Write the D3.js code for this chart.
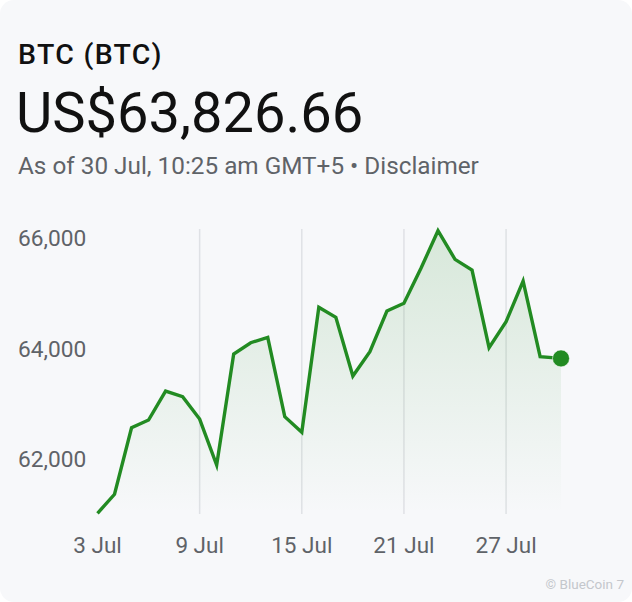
<!DOCTYPE html>
<html>
<head>
<meta charset="utf-8">
<script src="https://cdn.jsdelivr.net/npm/d3@7"></script>
<style>
  html, body { margin: 0; padding: 0; background: #ffffff; }
  svg { display: block; font-family: Roboto, "Noto Sans", sans-serif; }
</style>
</head>
<body>
<svg id="chart" width="632" height="602"></svg>
<script>
// daily closes, 3 Jul to 29 Jul, plus the live quote on 30 Jul
var dates = [
  "2024-07-03", "2024-07-04", "2024-07-05", "2024-07-06", "2024-07-07",
  "2024-07-08", "2024-07-09", "2024-07-10", "2024-07-11", "2024-07-12",
  "2024-07-13", "2024-07-14", "2024-07-15", "2024-07-16", "2024-07-17",
  "2024-07-18", "2024-07-19", "2024-07-20", "2024-07-21", "2024-07-22",
  "2024-07-23", "2024-07-24", "2024-07-25", "2024-07-26", "2024-07-27",
  "2024-07-28", "2024-07-29", "2024-07-30T05:25:00Z"
];
var prices = [
  61023, 61367, 62572, 62711, 63236,
  63133, 62729, 61897, 63906, 64110,
  64208, 62771, 62489, 64753, 64570,
  63508, 63948, 64684, 64824, 65457,
  66138, 65620, 65426, 64020, 64491,
  65227, 63857, 63826.66
];
var xTicks = ["2024-07-03", "2024-07-09", "2024-07-15", "2024-07-21", "2024-07-27"];
var yTicks = [62000, 64000, 66000];

var titleText = "BTC (BTC)";
var priceText = "US$63,826.66";
var subText = "As of 30 Jul, 10:25 am GMT+5 \u2022 Disclaimer";
var markText = "\u00a9 BlueCoin 7";

var green = "#228b22";
var grey = "#5f6368";

var data = dates.map(function (d, i) {
  return { date: new Date(d.length > 10 ? d : d + "T00:00:00Z"), value: prices[i] };
});

var svg = d3.select("#chart");

svg.append("rect")
  .attr("x", 0).attr("y", 0)
  .attr("width", 632).attr("height", 602)
  .attr("rx", 14)
  .attr("fill", "#f7f8fa");

// header
svg.append("text")
  .attr("x", 18).attr("y", 64)
  .attr("font-size", 28.5).attr("font-weight", 500)
  .attr("letter-spacing", 1.3)
  .attr("fill", "#111")
  .text(titleText);

svg.append("text")
  .attr("x", 16).attr("y", 132)
  .attr("font-size", 56)
  .attr("fill", "#111")
  .text(priceText);

svg.append("text")
  .attr("x", 18).attr("y", 174)
  .attr("font-size", 24.3)
  .attr("fill", grey)
  .text(subText);

// scales
var x = d3.scaleUtc()
  .domain(d3.extent(data, function (d) { return d.date; }))
  .range([97.5, 561]);

var y = d3.scaleLinear()
  .domain(d3.extent(data, function (d) { return d.value; }))
  .range([513.3, 230.7]);

var plotTop = 229, plotBottom = 514;

// vertical grid lines (no line at the first tick)
svg.append("g")
  .selectAll("line")
  .data(xTicks.slice(1))
  .enter().append("line")
  .attr("x1", function (d) { return x(new Date(d + "T00:00:00Z")); })
  .attr("x2", function (d) { return x(new Date(d + "T00:00:00Z")); })
  .attr("y1", plotTop).attr("y2", plotBottom)
  .attr("stroke", "#dfe1e5").attr("stroke-width", 1.5);

// x labels
var fmt = d3.utcFormat("%-d %b");
svg.append("g")
  .selectAll("text")
  .data(xTicks)
  .enter().append("text")
  .attr("x", function (d) { return x(new Date(d + "T00:00:00Z")); })
  .attr("y", 553)
  .attr("text-anchor", "middle")
  .attr("font-size", 22.5)
  .attr("fill", grey)
  .text(function (d) { return fmt(new Date(d + "T00:00:00Z")); });

// y labels
var yFmt = d3.format(",");
svg.append("g")
  .selectAll("text")
  .data(yTicks)
  .enter().append("text")
  .attr("x", 18)
  .attr("y", function (d) { return y(d); })
  .attr("dy", "0.35em")
  .attr("font-size", 22.7)
  .attr("fill", grey)
  .text(function (d) { return yFmt(d); });

// area gradient
var grad = svg.append("defs").append("linearGradient")
  .attr("id", "fade")
  .attr("gradientUnits", "userSpaceOnUse")
  .attr("x1", 0).attr("y1", y.range()[1])
  .attr("x2", 0).attr("y2", plotBottom);
grad.append("stop").attr("offset", "0%").attr("stop-color", green).attr("stop-opacity", 0.15);
grad.append("stop").attr("offset", "100%").attr("stop-color", green).attr("stop-opacity", 0.0);

var area = d3.area()
  .x(function (d) { return x(d.date); })
  .y0(plotBottom)
  .y1(function (d) { return y(d.value); });

svg.append("path")
  .datum(data)
  .attr("d", area)
  .attr("fill", "url(#fade)");

var line = d3.line()
  .x(function (d) { return x(d.date); })
  .y(function (d) { return y(d.value); });

svg.append("path")
  .datum(data)
  .attr("d", line)
  .attr("fill", "none")
  .attr("stroke", green)
  .attr("stroke-width", 3.4)
  .attr("stroke-linejoin", "miter");

var last = data[data.length - 1];
svg.append("circle")
  .attr("cx", x(last.date))
  .attr("cy", y(last.value))
  .attr("r", 8.5)
  .attr("fill", green)
  .attr("stroke", "#ffffff").attr("stroke-opacity", 0.6).attr("stroke-width", 1);

// watermark
svg.append("text")
  .attr("x", 624).attr("y", 589)
  .attr("text-anchor", "end")
  .attr("font-size", 13.5)
  .attr("fill", "#c4c7cc")
  .text(markText);
</script>
</body>
</html>
